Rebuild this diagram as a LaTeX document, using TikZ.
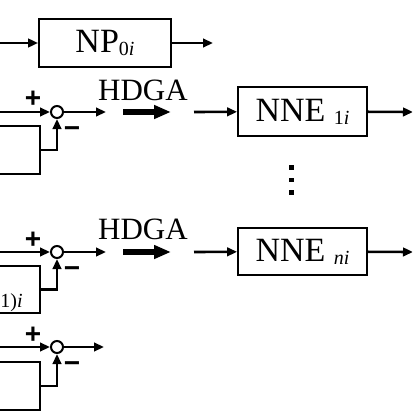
\documentclass[tikz,border=0pt]{standalone}
\usepackage{fontspec}
\setmainfont{Liberation Serif}
\newfontfamily\signfont{Liberation Sans}
\usetikzlibrary{arrows.meta}
\newcommand{\sublab}[1]{\raisebox{-3pt}{\fontsize{20}{20}\selectfont #1}}
\newcommand{\bigtext}{\fontsize{34}{34}\selectfont}

\begin{document}
\begin{tikzpicture}[x=1pt,y=-1pt,line width=2.6pt,>={Triangle[length=10pt,width=8.5pt]},
	box/.style={draw,rectangle,line width=1.8pt,inner sep=0pt,font=\bigtext},
	sum/.style={draw,circle,line width=2pt,minimum size=12pt,inner sep=0pt},
	sign/.style={font=\signfont\fontsize{28}{28}\selectfont\bfseries,inner sep=0pt},
	big/.style={line width=6pt,-{Triangle[length=17pt,width=13pt]}}]
\useasboundingbox (0,0) rectangle (412,412);
\clip (0,0) rectangle (412,412);

\node[box,minimum width=132pt,minimum height=48pt] (np0) at (105,43){NP\sublab{0\textit{i}}};
\node[box,minimum width=129pt,minimum height=49pt] (nne1) at (302.5,111.5){NNE \sublab{1\textit{i}}};
\node[box,minimum width=129pt,minimum height=47pt] (nnen) at (302.5,251.5){NNE \sublab{\textit{ni}}};
\node[box,minimum width=130pt,minimum height=48pt] (fb1) at (-25,150){};
\node[box,minimum width=130pt,minimum height=47pt] (fb2) at (-25,289.5){};
\node[box,minimum width=130pt,minimum height=48pt] (fb3) at (-25,386){};
\node[anchor=east,inner sep=0pt] (fb2lab) at (24,303){\sublab{1)\textit{i}}};
\node[sum] (sum1) at (57,112){};
\node[sum] (sum2) at (57,252){};
\node[sum] (sum3) at (57,347){};
\node[font=\fontsize{31}{31}\selectfont] (hdga1) at (143,90.5){HDGA};
\node[font=\fontsize{31}{31}\selectfont] (hdga2) at (143,229.5){HDGA};
%free ends
\coordinate (in0) at (-5,43);
\coordinate (out0) at (213,43);
\coordinate (in1) at (-5,112);
\coordinate (in2) at (-5,252);
\coordinate (in3) at (-5,347);
\coordinate (s1) at (106,112);
\coordinate (s2) at (106,252);
\coordinate (s3) at (104,347);
\coordinate (h1a) at (123,112);
\coordinate (h1b) at (171,112);
\coordinate (h2a) at (123,252);
\coordinate (h2b) at (171,252);
\coordinate (e1) at (194,112);
\coordinate (e2) at (194,252);
\coordinate (out1) at (413,112);
\coordinate (out2) at (413,252);
%signs
\node[sign] (p1) at (33,99){+};
\node[sign] (m1) at (72,132){−};
\node[sign] (p2) at (33,240){+};
\node[sign] (m2) at (72,272){−};
\node[sign] (p3) at (33,335){+};
\node[sign] (m3) at (72,367){−};

\begin{scope}[->]
%top row
\draw (in0) -- (np0);
\draw (np0) -- (out0);
%first stage
\draw (in1) -- (sum1);
\draw (fb1.east) -| (sum1.south);
\draw (sum1) -- (s1);
\draw[big] (h1a) -- (h1b);
\draw (e1) -- (nne1);
\draw (nne1) -- (out1);
%n-th stage
\draw (in2) -- (sum2);
\draw (fb2.east) -| (sum2.south);
\draw (sum2) -- (s2);
\draw[big] (h2a) -- (h2b);
\draw (e2) -- (nnen);
\draw (nnen) -- (out2);
%last
\draw (in3) -- (sum3);
\draw (fb3.east) -| (sum3.south);
\draw (sum3) -- (s3);
\end{scope}
%dots
\fill (289,165) rectangle (293.5,169.5);
\fill (289,177.5) rectangle (293.5,182);
\fill (289,190) rectangle (293.5,194.5);
\end{tikzpicture}
\end{document}
